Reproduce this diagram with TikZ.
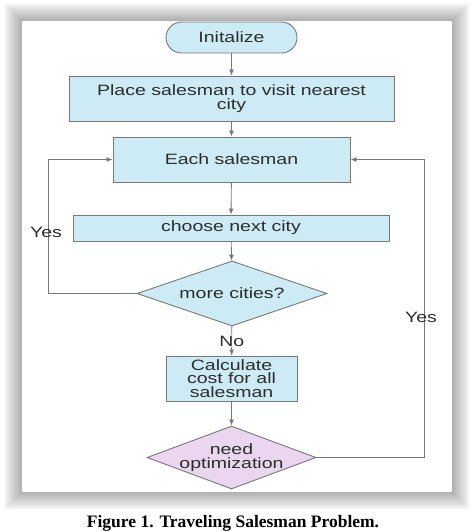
\documentclass[tikz,border=0pt]{standalone}
\usepackage{fontspec}
\setmainfont{Liberation Sans}[FakeStretch=1.3]
\newfontfamily\captionfont{Liberation Serif}
\usetikzlibrary{arrows.meta,shapes.geometric}
\definecolor{boxblue}{RGB}{205,235,245}
\definecolor{boxpink}{RGB}{234,214,238}
\definecolor{linegray}{RGB}{120,120,120}
\definecolor{textgray}{RGB}{45,45,45}
\begin{document}
\begin{tikzpicture}[x=1pt,y=-1pt,
  every node/.style={font=\fontsize{15}{13.5}\selectfont,text=textgray},
  proc/.style={draw=linegray,line width=.9pt,fill=boxblue,align=center,inner sep=0pt},
  decide/.style={diamond,draw=linegray,line width=.9pt,align=center,inner sep=0pt,aspect=2.7},
  flow/.style={draw=linegray,line width=.9pt,-{Latex[length=6pt,width=5pt]}}]
\useasboundingbox(0,0)rectangle(474,532);
% frame with soft shadow
\foreach \i in {1,...,18}\fill[black,opacity=.018](22-\i,21-\i)rectangle(452+\i,492+\i);
\fill[white](22,21)rectangle(452,492);
\node[proc,rounded corners=15.5pt,minimum width=131pt,minimum height=31pt](init)at(231.5,37.5){Initalize};
\node[proc,minimum width=325pt,minimum height=45pt](place)at(231.5,98.5){Place salesman to visit nearest\\city};
\node[proc,minimum width=237pt,minimum height=45pt](each)at(231.5,159.5){Each salesman};
\node[proc,minimum width=316pt,minimum height=26pt](choose)at(231,228){choose next city};
\node[decide,fill=boxblue,minimum width=190pt,minimum height=65pt](more)at(232,293.5){more cities?};
\node[proc,minimum width=131pt,minimum height=45pt](calc)at(231.5,378.5){Calculate\\cost for all\\salesman};
\node[decide,fill=boxpink,minimum width=169pt,minimum height=63pt,inner sep=-4pt](opt)at(231.5,457.5){need\\optimization};
\coordinate(ll)at(48,159.5);\coordinate(rr)at(424,159.5);
\draw[flow](init)--(place);\draw[flow](place)--(each);\draw[flow](each)--(choose);\draw[flow](choose)--(more);
\draw[flow](more)--node[fill=white,inner sep=1pt](no){No}(calc);\draw[flow](calc)--(opt);
\draw[flow](more.west)-|(ll)--(each.west);\draw[flow](opt.east)-|(rr)--(each.east);
\node(yesl)at(46,232){Yes};\node(yesr)at(421,317){Yes};
\node[font=\captionfont\bfseries\fontsize{17.5}{18}\selectfont,text=black](cap)at(233,523){Figure 1. Traveling Salesman Problem.};
\end{tikzpicture}
\end{document}
